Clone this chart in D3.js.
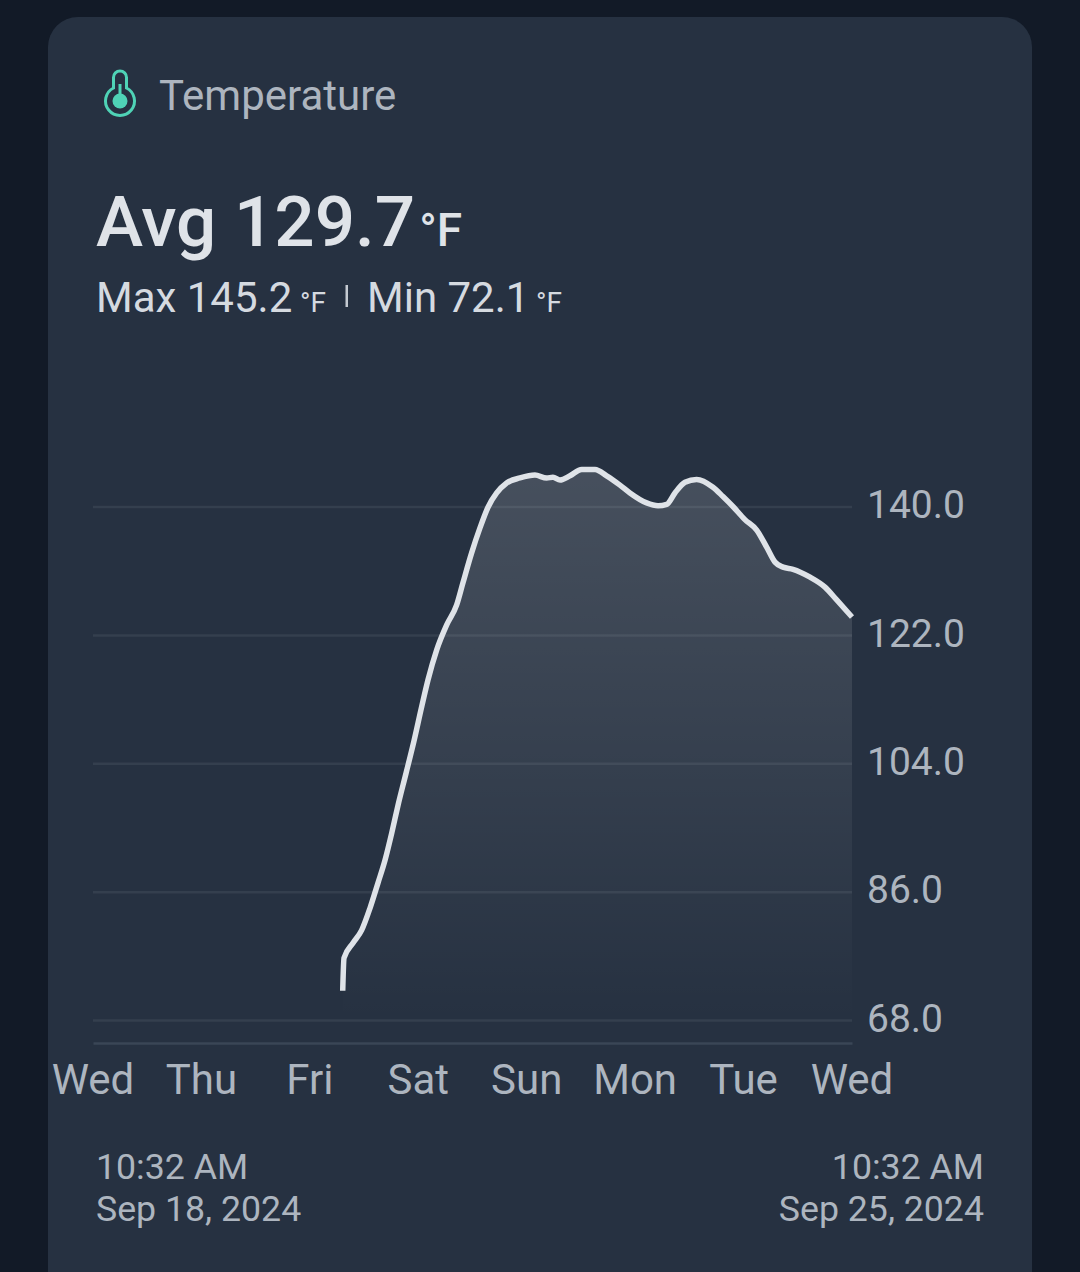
<!DOCTYPE html>
<html>
<head>
<meta charset="utf-8">
<script src="https://cdn.jsdelivr.net/npm/d3@7"></script>
<style>
  html, body { margin: 0; padding: 0; background: #121a27; }
  svg { display: block; font-family: Roboto, sans-serif; }
  .domain { stroke: #3a4656; stroke-width: 2.5; }
</style>
</head>
<body>
<svg id="chart" width="1080" height="1272" viewBox="0 0 1080 1272"></svg>
<script>
// values: days since Wed Sep 18 10:32 AM, temperature in F
const days = [2.303, 2.315, 2.398, 2.478, 2.555, 2.628, 2.693, 2.755, 2.813, 2.887,
  2.960, 3.031, 3.090, 3.170, 3.262, 3.354, 3.412, 3.492, 3.569, 3.643,
  3.723, 3.815, 3.938, 4.076, 4.184, 4.242, 4.307, 4.399, 4.507, 4.630,
  4.737, 4.860, 4.952, 5.106, 5.211, 5.291, 5.367, 5.460, 5.567, 5.718,
  5.810, 5.902, 6.010, 6.121, 6.213, 6.290, 6.364, 6.456, 6.613, 6.751, 6.859, 7];
const temps = [72.1, 76.7, 78.8, 80.6, 83.7, 87.2, 90.4, 94.2, 98.1, 102.6,
  107.1, 111.9, 115.7, 119.9, 123.4, 126.2, 129.3, 133.5, 137.0, 139.9,
  141.9, 143.3, 144.0, 144.4, 144.0, 144.1, 143.7, 144.3, 145.2, 145.2,
  144.3, 143.0, 141.9, 140.5, 140.1, 140.3, 141.9, 143.4, 143.8, 142.7,
  141.4, 140.0, 138.2, 136.7, 134.3, 132.2, 131.5, 131.2, 130.1, 128.7, 126.9, 124.5];
const yTicks = [68, 86, 104, 122, 140];
const dayLabels = ["Wed", "Thu", "Fri", "Sat", "Sun", "Mon", "Tue", "Wed"];

const svg = d3.select("#chart");

// card
svg.append("rect")
  .attr("x", 48).attr("y", 17)
  .attr("width", 984).attr("height", 1300)
  .attr("rx", 30)
  .attr("fill", "#263141");

// header icon
const icon = svg.append("g").attr("fill", "none").attr("stroke", "#4fd3b6").attr("stroke-width", 3);
icon.append("path")
  .attr("d", "M113.5 88 V77.5 a6.5 6.5 0 0 1 13 0 V88 a14.5 14.5 0 1 1 -13 0 Z");
icon.append("line").attr("x1", 120).attr("x2", 120).attr("y1", 84).attr("y2", 100);
icon.append("circle").attr("cx", 120).attr("cy", 101).attr("r", 7.5)
  .attr("fill", "#4fd3b6").attr("stroke", "none");

// header text
svg.append("text").attr("x", 159).attr("y", 110)
  .attr("font-size", 42).attr("fill", "#adb5bf").text("Temperature");

const avg = svg.append("text").attr("x", 96).attr("y", 246).attr("fill", "#dfe3e8").attr("font-weight", 500);
avg.append("tspan").attr("font-size", 71).text("Avg 129.7");
avg.append("tspan").attr("font-size", 46).attr("dx", 4).text("°F");

const sub = svg.append("text").attr("y", 312).attr("fill", "#d5dae0").attr("font-size", 42);
sub.append("tspan").attr("x", 96).text("Max 145.2");
sub.append("tspan").attr("x", 300).attr("font-size", 28).text("°F");
sub.append("tspan").attr("x", 367).text("Min 72.1");
sub.append("tspan").attr("x", 536).attr("font-size", 28).text("°F");
svg.append("rect").attr("x", 345.5).attr("y", 285).attr("width", 2.5).attr("height", 22).attr("fill", "#c4cad1");

// scales
const x = d3.scaleLinear().domain([0, 7]).range([93, 852]);
const y = d3.scaleLinear().domain([68, 140]).range([1020, 506.5]);
const points = days.map((d, i) => ({ day: d, temp: temps[i] }));

// area gradient
const grad = svg.append("defs").append("linearGradient")
  .attr("id", "fade").attr("x1", 0).attr("x2", 0).attr("y1", 0).attr("y2", 1);
grad.append("stop").attr("offset", "0%").attr("stop-color", "#fff").attr("stop-opacity", 0.15);
grad.append("stop").attr("offset", "100%").attr("stop-color", "#fff").attr("stop-opacity", 0);

// grid + right labels
const yAxis = svg.append("g")
  .attr("transform", "translate(852,0)")
  .call(d3.axisRight(y).tickValues(yTicks).tickFormat(d3.format(".1f"))
    .tickSize(-759).tickPadding(15));
yAxis.select(".domain").remove();
yAxis.selectAll("line").attr("stroke", "#343f4e").attr("stroke-width", 2.5);
yAxis.selectAll("text").attr("font-size", 39).attr("font-family", "Roboto, sans-serif")
  .attr("fill", "#adb5bf").attr("dy", "0.29em");

// bottom axis
const xAxis = svg.append("g")
  .attr("transform", "translate(0,1043)")
  .call(d3.axisBottom(x).tickValues(d3.range(8))
    .tickFormat(i => dayLabels[i]).tickSize(0).tickPadding(21).tickSizeOuter(0));
xAxis.selectAll("text").attr("font-size", 42).attr("font-family", "Roboto, sans-serif")
  .attr("fill", "#adb5bf").attr("dx", -0.5);

// area + line
const area = d3.area().x(d => x(d.day)).y0(y(68)).y1(d => y(d.temp)).curve(d3.curveMonotoneX);
const line = d3.line().x(d => x(d.day)).y(d => y(d.temp)).curve(d3.curveMonotoneX);

svg.append("path").datum(points).attr("d", area).attr("fill", "url(#fade)");
svg.append("path").datum(points).attr("d", line)
  .attr("fill", "none").attr("stroke", "#dfe3e8").attr("stroke-width", 5.5)
  .attr("stroke-linejoin", "round");

// range footer
const footer = [
  { anchor: "start", px: 96, lines: ["10:32 AM", "Sep 18, 2024"] },
  { anchor: "end", px: 984, lines: ["10:32 AM", "Sep 25, 2024"] }
];
footer.forEach(f => {
  f.lines.forEach((t, i) => {
    svg.append("text").attr("x", f.px).attr("y", 1179 + i * 42)
      .attr("text-anchor", f.anchor).attr("font-size", 35.7)
      .attr("fill", "#adb5bf").text(t);
  });
});
</script>
</body>
</html>
